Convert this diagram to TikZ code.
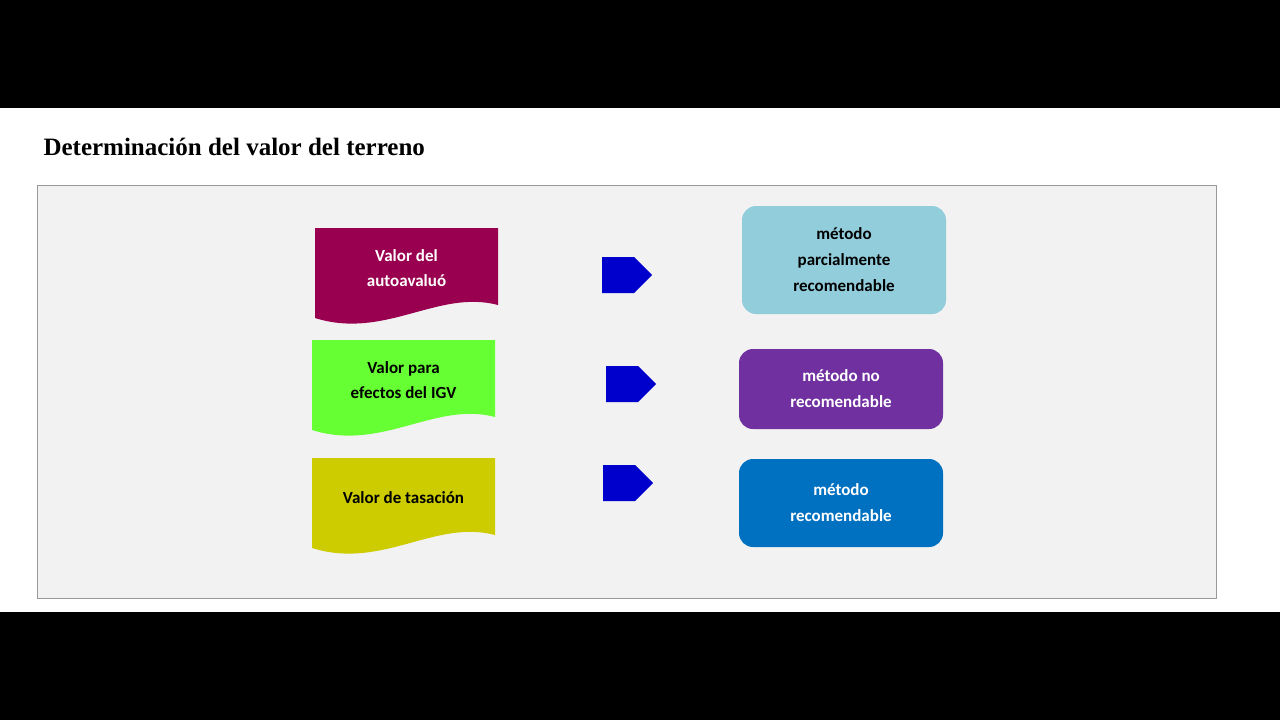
\documentclass[tikz,border=0pt]{standalone}
\usepackage{fontspec}
\setmainfont{Carlito}
\newfontfamily\titlefont{Liberation Serif}
\usetikzlibrary{shapes.arrows}

\definecolor{panelgray}{RGB}{242,242,242}
\definecolor{docred}{RGB}{153,0,80}
\definecolor{docgreen}{RGB}{102,255,51}
\definecolor{docolive}{RGB}{204,204,0}
\definecolor{boxlight}{RGB}{146,205,220}
\definecolor{boxpurple}{RGB}{112,48,160}
\definecolor{boxblue}{RGB}{0,112,192}
\definecolor{arrowblue}{RGB}{0,0,204}

\tikzset{
  doctext/.style={font=\bfseries\fontsize{17}{25}\selectfont, align=center},
  method/.style={rounded corners=14pt, minimum width=204pt, inner sep=0pt,
    font=\bfseries\fontsize{17}{26}\selectfont, align=center},
  bluearrow/.style={single arrow, fill=arrowblue, minimum width=36pt,
    single arrow head extend=0pt, minimum height=50pt, inner sep=3pt}
}

% document shape with wavy bottom: name, x, y, colour
\newcommand{\docshape}[4]{%
  \fill[#4] (#2,#3) -- ++(183,0) -- ++(0,77)
    .. controls ++(-60,-16) and ++(70,22) .. (#2,#3+90) -- cycle;
  \coordinate (#1) at (#2+91.5,#3+40);
}

\begin{document}
\begin{tikzpicture}[x=1pt,y=1pt,yscale=-1]
\fill[black] (0,0) rectangle (1280,720);
\fill[white] (0,108) rectangle (1280,612);

% title and panel
\node[anchor=west, font=\titlefont\bfseries\fontsize{25}{30}\selectfont] (title) at (40,147) {Determinación del valor del terreno};
\draw[gray!80, fill=panelgray] (37,185) rectangle (1216,598);

% documents
\docshape{autoavaluo}{315}{228}{docred}
\docshape{igv}{312}{340}{docgreen}
\docshape{tasacion}{312}{458}{docolive}
\node[doctext, text=white] (tautoavaluo) at (autoavaluo) {Valor del\\autoavaluó};
\node[doctext] (tigv) at (igv) {Valor para\\efectos del IGV};
\node[doctext] (ttasacion) at (tasacion) {Valor de tasación};

% arrows
\node[bluearrow] (arr1) at (618,275) {};
\node[bluearrow] (arr2) at (622,384) {};
\node[bluearrow] (arr3) at (619,483) {};

% methods
\node[method, fill=boxlight, minimum height=108pt] (parcial) at (844,260) {método\\parcialmente\\recomendable};
\node[method, fill=boxpurple, text=white, minimum height=80pt] (norec) at (841,389) {método no\\recomendable};
\node[method, fill=boxblue, text=white, minimum height=88pt] (rec) at (841,503) {método\\recomendable};
\end{tikzpicture}
\end{document}
